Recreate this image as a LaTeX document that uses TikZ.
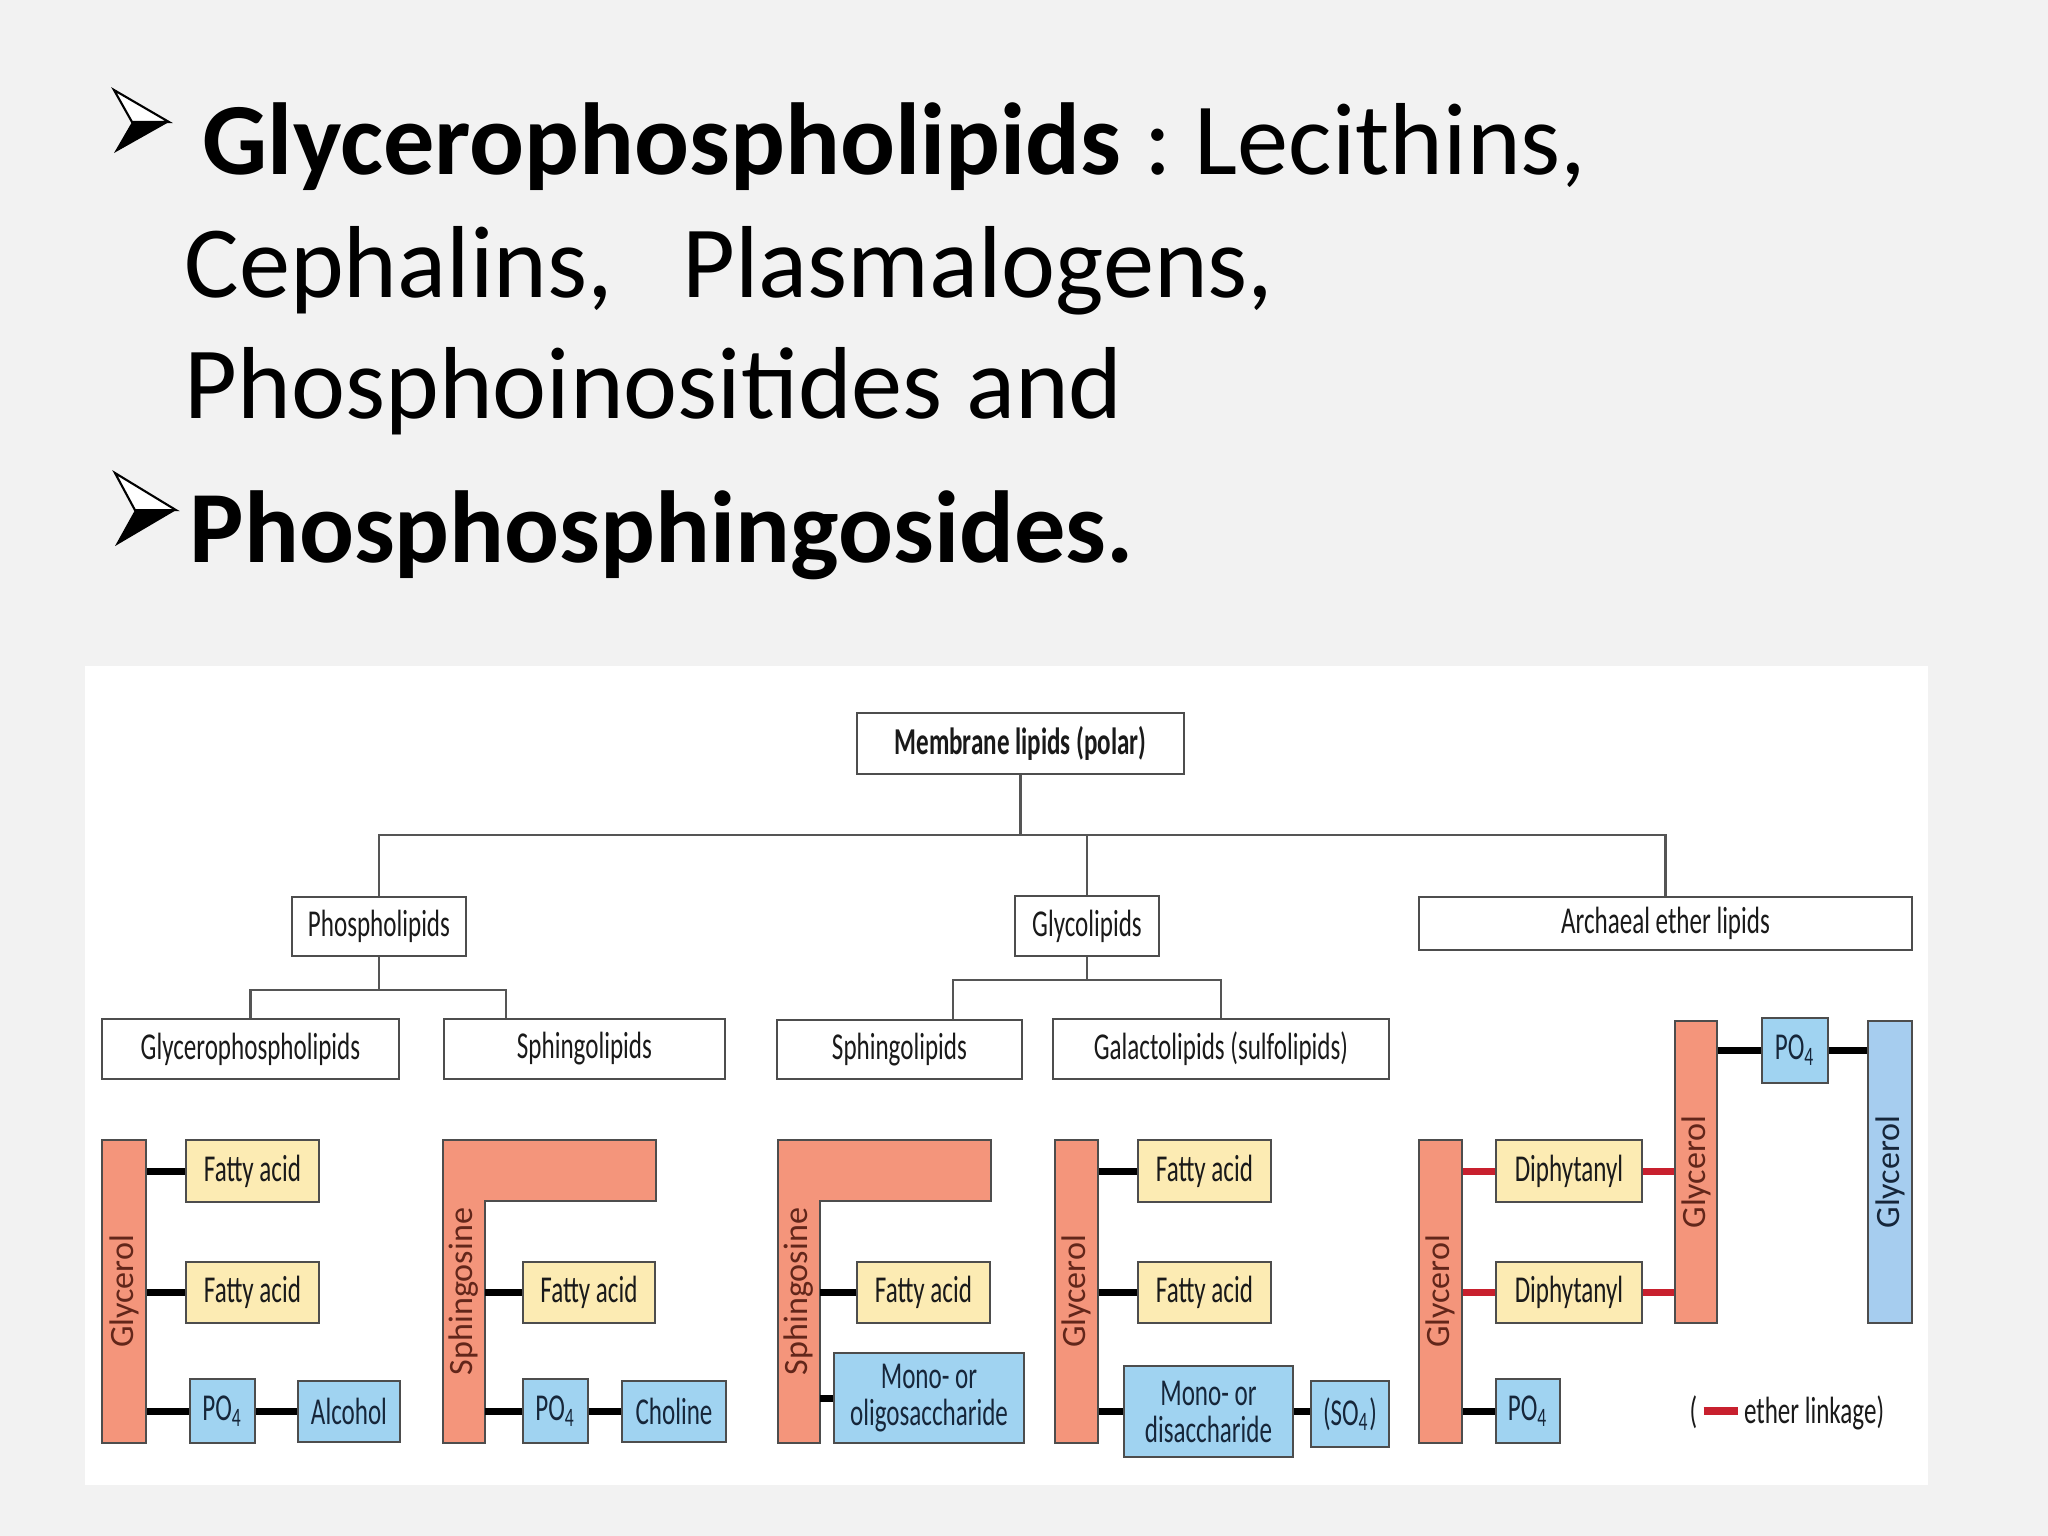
\documentclass[tikz,border=0pt]{standalone}
\usepackage{fontspec}
\setmainfont{Carlito}
\newfontfamily\narrowfont{Carlito}[FakeStretch=0.66]
\usetikzlibrary{calc}
\frenchspacing
\definecolor{slidebg}{HTML}{F2F2F2}
\definecolor{edgegray}{HTML}{4D4D4D}
\definecolor{linegray}{HTML}{555555}
\definecolor{inkgray}{HTML}{1A1A1A}
\definecolor{inkblue}{HTML}{16263A}
\definecolor{salmon}{HTML}{F4957B}
\definecolor{fatyellow}{HTML}{FCEBB3}
\definecolor{headblue}{HTML}{A0D3F1}
\definecolor{tailblue}{HTML}{A6CDEF}
\definecolor{barink}{HTML}{62261A}
\definecolor{etherred}{HTML}{C8202E}
\tikzset{
  treebox/.style={draw=edgegray, line width=0.6pt, fill=white, inner sep=0pt,
    font=\narrowfont\fontsize{10.8}{10.5}\selectfont, text=inkgray},
  branch/.style={draw=linegray, line width=0.6pt},
  part/.style={draw=edgegray, line width=0.5pt, inner sep=0pt, align=center,
    font=\narrowfont\fontsize{10.8}{10.5}\selectfont},
  fatbox/.style={part, fill=fatyellow, text=inkgray},
  headbox/.style={part, fill=headblue, text=inkblue},
  backbone/.style={draw=edgegray, line width=0.5pt, fill=salmon, inner sep=0pt},
  barname/.style={rotate=90, inner sep=0pt, font=\fontsize{9.7}{10}\selectfont, text=barink},
  bond/.style={draw=black, line width=2pt},
  ether/.style={draw=etherred, line width=2pt},
  keytext/.style={inner sep=0pt, font=\narrowfont\fontsize{10.8}{10.5}\selectfont, text=inkgray},
  bigline/.style={inner sep=0pt, anchor=base west, font=\fontsize{29.1}{34}\selectfont},
  arrowbullet/.pic={
    \filldraw[fill=white, draw=black, line width=0.6pt, line join=miter]
      (0,0) -- (55,32) -- (18,32) -- cycle;
    \fill[black] (18,32) -- (55,32) -- (0,63) -- cycle;
  }
}
\begin{document}
\begin{tikzpicture}[x=0.01cm, y=-0.01cm]
  \fill[slidebg] (0,0) rectangle (2048,1536);
  \useasboundingbox (0,0) rectangle (2048,1536);

  % slide text
  \pic (b1) at (114,90) {arrowbullet};
  \node[bigline] (l1) at (202,174) {\textbf{Glycerophospholipids} : Lecithins,};
  \node[bigline] (l2) at (184,297) {Cephalins,\ \ \ Plasmalogens,};
  \node[bigline] (l3) at (184,418) {Phosphoinositides and};
  \pic[xscale=1.11, yscale=1.16] (b2) at (115,473) {arrowbullet};
  \node[bigline] (l4) at (189,562) {\textbf{Phosphosphingosides.}};

  % figure panel
  \fill[white] (85,666) rectangle (1928,1485);

  % classification tree
  \node[treebox, minimum width=3.27cm, minimum height=0.61cm] (mem) at (1020.5,743.5) {\bfseries Membrane lipids (polar)};
  \node[treebox, minimum width=1.74cm, minimum height=0.59cm] (phos) at (379,926.5) {Phospholipids};
  \node[treebox, minimum width=1.44cm, minimum height=0.60cm] (glyco) at (1087,926) {Glycolipids};
  \node[treebox, minimum width=4.93cm, minimum height=0.53cm] (arch) at (1665.5,923.5) {Archaeal ether lipids};
  \node[treebox, minimum width=2.97cm, minimum height=0.60cm] (gp) at (250.5,1049) {Glycerophospholipids};
  \node[treebox, minimum width=2.81cm, minimum height=0.60cm] (sp1) at (584.5,1049) {Sphingolipids};
  \node[treebox, minimum width=2.45cm, minimum height=0.59cm] (sp2) at (899.5,1049.5) {Sphingolipids};
  \node[treebox, minimum width=3.36cm, minimum height=0.60cm] (gal) at (1221,1049) {Galactolipids (sulfolipids)};

  \coordinate (hub) at (1020.5,835);
  \draw[branch] (mem.south) -- (hub);
  \draw[branch] (phos.north) |- (hub) -| (arch.north);
  \draw[branch] (glyco.north) -- (glyco.north |- hub);
  \draw[branch] (phos.south) -- ++(0,33) coordinate (pl-mid);
  \draw[branch] (gp.north) |- (pl-mid) -| ($(sp1.north west)+(63,0)$);
  \draw[branch] (glyco.south) -- ++(0,23) coordinate (gl-mid);
  \draw[branch] ($(sp2.north west)+(177,0)$) |- (gl-mid) -| (gal.north);

  % glycerophospholipid
  \node[backbone, minimum width=0.44cm, minimum height=3.03cm] (gly1) at (124,1291.5) {};
  \node[barname] (gly1-name) at (gly1) {Glycerol};
  \node[fatbox, minimum width=1.33cm, minimum height=0.62cm] (fa1) at (252.5,1171) {Fatty acid};
  \node[fatbox, minimum width=1.33cm, minimum height=0.61cm] (fa2) at (252.5,1292.5) {Fatty acid};
  \node[headbox, minimum width=0.65cm, minimum height=0.64cm] (po1) at (222.5,1411) {PO\textsubscript{4}};
  \node[headbox, minimum width=1.02cm, minimum height=0.61cm] (alc) at (349,1411.5) {Alcohol};
  \draw[bond] (fa1.west) -- (fa1.west -| gly1.east);
  \draw[bond] (fa2.west) -- (fa2.west -| gly1.east);
  \draw[bond] (po1.west) -- (po1.west -| gly1.east);
  \draw[bond] (po1.east) -- (po1.east -| alc.west);

  % sphingolipid (phospho)
  \coordinate (sph1) at (443,1140);
  \draw[backbone] (sph1) -- ++(213,0) -- ++(0,61) -- ++(-171,0) -- ++(0,242) -- ++(-42,0) -- cycle;
  \coordinate (sph1-edge) at ($(sph1)+(42,0)$);
  \node[barname] (sph1-name) at (464,1291.5) {Sphingosine};
  \node[fatbox, minimum width=1.32cm, minimum height=0.61cm] (fa3) at (589,1292.5) {Fatty acid};
  \node[headbox, minimum width=0.65cm, minimum height=0.64cm] (po2) at (555.5,1411) {PO\textsubscript{4}};
  \node[headbox, minimum width=1.04cm, minimum height=0.61cm] (chol) at (674,1411.5) {Choline};
  \draw[bond] (fa3.west) -- (fa3.west -| sph1-edge);
  \draw[bond] (po2.west) -- (po2.west -| sph1-edge);
  \draw[bond] (po2.east) -- (po2.east -| chol.west);

  % sphingolipid (glyco)
  \coordinate (sph2) at (778,1140);
  \draw[backbone] (sph2) -- ++(213,0) -- ++(0,61) -- ++(-171,0) -- ++(0,242) -- ++(-42,0) -- cycle;
  \coordinate (sph2-edge) at ($(sph2)+(42,0)$);
  \node[barname] (sph2-name) at (799,1291.5) {Sphingosine};
  \node[fatbox, minimum width=1.33cm, minimum height=0.61cm] (fa4) at (923.5,1292.5) {Fatty acid};
  \node[headbox, minimum width=1.90cm, minimum height=0.90cm] (mono1) at (929,1398) {Mono- or\\oligosaccharide};
  \draw[bond] (fa4.west) -- (fa4.west -| sph2-edge);
  \draw[bond] (mono1.west) -- (mono1.west -| sph2-edge);

  % galactolipid
  \node[backbone, minimum width=0.43cm, minimum height=3.03cm] (gly2) at (1076.5,1291.5) {};
  \node[barname] (gly2-name) at (gly2) {Glycerol};
  \node[fatbox, minimum width=1.33cm, minimum height=0.62cm] (fa5) at (1204.5,1171) {Fatty acid};
  \node[fatbox, minimum width=1.33cm, minimum height=0.61cm] (fa6) at (1204.5,1292.5) {Fatty acid};
  \node[headbox, minimum width=1.69cm, minimum height=0.91cm] (mono2) at (1208.5,1411.5) {Mono- or\\disaccharide};
  \node[headbox, minimum width=0.78cm, minimum height=0.66cm] (so4) at (1350,1414) {(SO\textsubscript{4})};
  \draw[bond] (fa5.west) -- (fa5.west -| gly2.east);
  \draw[bond] (fa6.west) -- (fa6.west -| gly2.east);
  \draw[bond] (mono2.west) -- (mono2.west -| gly2.east);
  \draw[bond] (mono2.east) -- (mono2.east -| so4.west);

  % archaeal ether lipid
  \node[backbone, minimum width=0.43cm, minimum height=3.03cm] (gly3) at (1440.5,1291.5) {};
  \node[barname] (gly3-name) at (gly3) {Glycerol};
  \node[fatbox, minimum width=1.46cm, minimum height=0.62cm] (dip1) at (1569,1171) {Diphytanyl};
  \node[fatbox, minimum width=1.46cm, minimum height=0.61cm] (dip2) at (1569,1292.5) {Diphytanyl};
  \node[backbone, minimum width=0.42cm, minimum height=3.02cm] (gly4) at (1696,1172) {};
  \node[barname] (gly4-name) at (gly4) {Glycerol};
  \node[headbox, minimum width=0.66cm, minimum height=0.65cm] (po4) at (1795,1050.5) {PO\textsubscript{4}};
  \node[backbone, fill=tailblue, minimum width=0.44cm, minimum height=3.02cm] (gly5) at (1890,1172) {};
  \node[barname, text=inkblue] (gly5-name) at (gly5) {Glycerol};
  \node[headbox, minimum width=0.64cm, minimum height=0.64cm] (po3) at (1528,1411) {PO\textsubscript{4}};
  \draw[ether] (dip1.west) -- (dip1.west -| gly3.east);
  \draw[ether] (dip2.west) -- (dip2.west -| gly3.east);
  \draw[ether] (dip1.east) -- (dip1.east -| gly4.west);
  \draw[ether] (dip2.east) -- (dip2.east -| gly4.west);
  \draw[bond] (po4.west) -- (po4.west -| gly4.east);
  \draw[bond] (po4.east) -- (po4.east -| gly5.west);
  \draw[bond] (po3.west) -- (po3.west -| gly3.east);
  \node[keytext, anchor=west] (key) at (1689,1413) {(\,\textcolor{etherred}{\rule[2.6pt]{0.34cm}{2pt}}\,ether linkage)};
\end{tikzpicture}
\end{document}
